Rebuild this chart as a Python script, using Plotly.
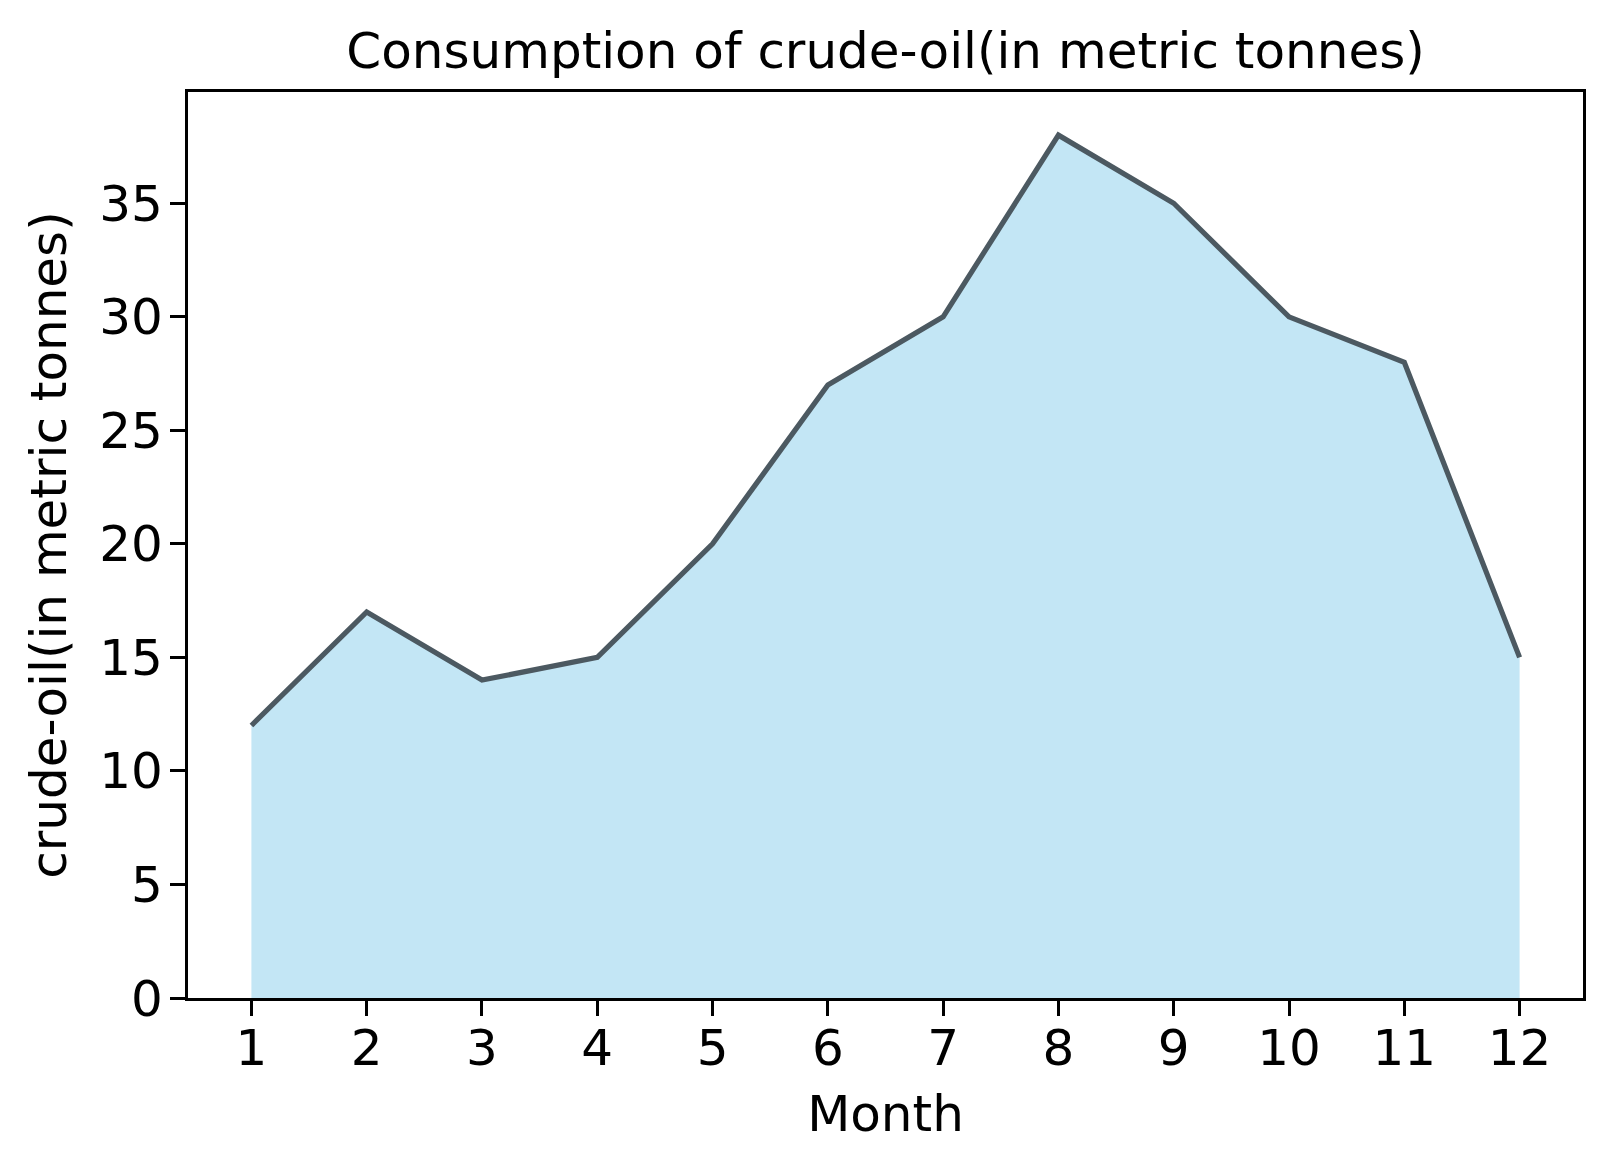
import plotly.graph_objects as go

months = [1, 2, 3, 4, 5, 6, 7, 8, 9, 10, 11, 12]
consumption = [12, 17, 14, 15, 20, 27, 30, 38, 35, 30, 28, 15]
y_ticks = [0, 5, 10, 15, 20, 25, 30, 35]

FONT = "DejaVu Sans"

fig = go.Figure()
fig.add_trace(go.Scatter(
    x=months, y=consumption, mode="lines", fill="tozeroy",
    fillcolor="rgba(135,206,235,0.5)", line=dict(width=0, color="rgba(135,206,235,0.5)"),
    hoverinfo="skip", showlegend=False))
fig.add_trace(go.Scatter(
    x=months, y=consumption, mode="lines",
    line=dict(color="rgb(76,89,97)", width=5.2), showlegend=False))

axis_common = dict(
    showline=True, mirror=True, linecolor="black", linewidth=3.3,
    ticks="outside", ticklen=15, tickwidth=3.3, tickcolor="black",
    showgrid=False, zeroline=False,
    tickfont=dict(family=FONT, size=50, color="black"),
)

fig.update_layout(
    width=1612, height=1170,
    margin=dict(l=188, r=29, t=92, b=172),
    paper_bgcolor="white", plot_bgcolor="white",
    font=dict(family=FONT, color="black"),
    title=dict(text="Consumption of crude-oil(in metric tonnes)",
               font=dict(family=FONT, size=50, color="black"),
               x=0.5, xref="paper", xanchor="center",
               y=1 - 50 / 1170, yref="container", yanchor="middle"),
    xaxis=dict(axis_common, range=[0.45, 12.55], tickmode="array", tickvals=months,
               ticklabelstandoff=-11,
               title=dict(text="Month", font=dict(family=FONT, size=50, color="black"), standoff=20)),
    yaxis=dict(axis_common, range=[0, 39.9], tickmode="array", tickvals=y_ticks,
               ticklabelstandoff=-3,
               title=dict(text="crude-oil(in metric tonnes)", font=dict(family=FONT, size=50, color="black"), standoff=17)),
)

fig.write_html("out.html", config={"displayModeBar": False},
               post_script="document.body.style.margin='0';")
